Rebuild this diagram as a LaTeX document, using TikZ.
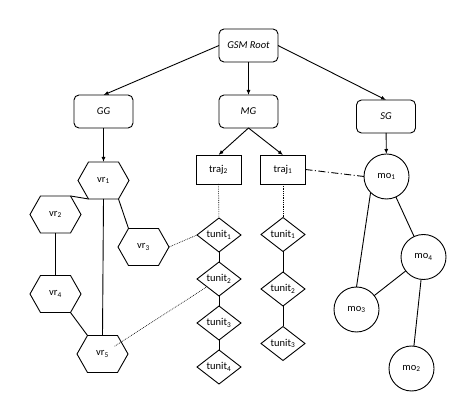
\documentclass[tikz,border=0pt]{standalone}
\usepackage{fontspec}
\setmainfont{Carlito}
\usetikzlibrary{positioning,arrows.meta,shapes.geometric}

\begin{document}
\begin{tikzpicture}[x=1pt, y=-1pt, line width=0.9pt,
  every node/.style={font=\fontsize{10.5}{12}\selectfont, inner sep=0pt, outer sep=0pt},
  group/.style={draw, rounded corners=5pt, minimum width=59pt, minimum height=33pt, font=\fontsize{10.5}{12}\selectfont\itshape},
  traj/.style={draw, minimum width=45pt, minimum height=29pt},
  hexa/.style={minimum width=30pt, minimum height=37pt,
    append after command={\pgfextra{\let\hx\tikzlastnode
      \draw ([xshift=-10.5pt]\hx.west) -- (\hx.north west) -- (\hx.north east)
        -- ([xshift=10.5pt]\hx.east) -- (\hx.south east) -- (\hx.south west) -- cycle;}}},
  tunit/.style={draw, diamond, aspect=1.3, minimum width=44pt, minimum height=34pt},
  mo/.style={draw, circle, minimum size=45pt},
  arr/.style={-{Latex[length=5pt,width=4pt]}},
  weak/.style={dash pattern=on 0.8pt off 1pt, line width=0.6pt}]
  \useasboundingbox (0,0) rectangle (474,419);

  % groups
  \node[group] (root) at (248.5,45.5) {GSM Root};
  \node[group] (gg) at (103.5,111.5) {GG};
  \node[group] (mg) at (248.5,111.5) {MG};
  \node[group] (sg) at (386,116.5) {SG};

  % trajectories and their units
  \node[traj] (trajb) at (218.5,169.5) {traj\textsubscript{2}};
  \node[traj] (traja) at (283,169.5) {traj\textsubscript{1}};
  \node[tunit] (tub1) at (219,235) {tunit\textsubscript{1}};
  \node[tunit,below=10pt of tub1] (tub2) {tunit\textsubscript{2}};
  \node[tunit,below=10pt of tub2] (tub3) {tunit\textsubscript{3}};
  \node[tunit,below=10pt of tub3] (tub4) {tunit\textsubscript{4}};
  \node[tunit] (tua1) at (283,234.5) {tunit\textsubscript{1}};
  \node[tunit,below=20.5pt of tua1] (tua2) {tunit\textsubscript{2}};
  \node[tunit,below=20.5pt of tua2] (tua3) {tunit\textsubscript{3}};

  % regions
  \node[hexa] (vr1) at (103.5,180.5) {vr\textsubscript{1}};
  \node[hexa] (vr2) at (55.5,214.5) {vr\textsubscript{2}};
  \node[hexa] (vr3) at (143.5,247) {vr\textsubscript{3}};
  \node[hexa] (vr4) at (55.5,294) {vr\textsubscript{4}};
  \node[hexa] (vr5) at (102.5,354) {vr\textsubscript{5}};

  % moving objects
  \node[mo] (mo1) at (386.5,176.5) {mo\textsubscript{1}};
  \node[mo] (mo4) at (423.5,257) {mo\textsubscript{4}};
  \node[mo] (mo3) at (356.5,309.5) {mo\textsubscript{3}};
  \node[mo] (mo2) at (411.5,368.5) {mo\textsubscript{2}};

  \draw[arr] (root.west) -- (gg.north);
  \draw[arr] (root) -- (mg);
  \draw[arr] (root.east) -- (sg.north);
  \draw[arr] (gg) -- (vr1);
  \draw[arr] (mg.south) -- (trajb.north);
  \draw[arr] (mg.south) -- (traja.north);
  \draw[arr] (sg) -- (mo1);

  \draw (vr1.south west) -- (vr2.north east);
  \draw (vr1.south east) -- (vr3.north west);
  \draw (vr1.south) -- (vr5.north);
  \draw (vr2) -- (vr4);
  \draw (vr4.south east) -- (vr5.north west);

  \draw[weak] (trajb) -- (tub1);
  \draw[weak] (traja) -- (tua1);
  \draw (tub1) -- (tub2);
  \draw (tub2) -- (tub3);
  \draw (tub3) -- (tub4);
  \draw (tua1) -- (tua2);
  \draw (tua2) -- (tua3);
  \draw[weak] ([xshift=10.5pt]vr3.east) -- (tub1.west);
  \draw[weak, shorten <=-3.5pt] (vr5) -- (tub2);

  \draw[dash pattern=on 7pt off 2.5pt on 1pt off 2.5pt] (traja.east) -- (mo1.west);
  \draw (mo1.-135) -- (mo3.north);
  \draw (mo1) -- (mo4);
  \draw (mo4) -- (mo3);
  \draw (mo4) -- (mo2);
\end{tikzpicture}
\end{document}
